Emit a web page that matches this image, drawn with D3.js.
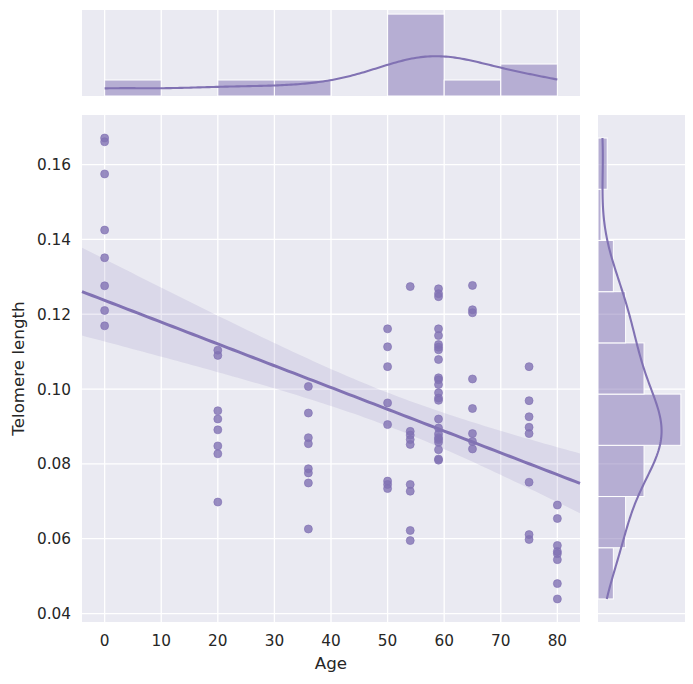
<!DOCTYPE html>
<html>
<head>
<meta charset="utf-8">
<script src="https://cdn.jsdelivr.net/npm/d3@7"></script>
<style>
  body { margin: 0; background: #fff; }
  text { font-family: "DejaVu Sans", sans-serif; fill: #262626; }
</style>
</head>
<body>
<svg id="chart" width="693" height="684"></svg>
<script>
// ages present in the sample and the telomere lengths read for each of them
const ageGroups = [0, 20, 36, 50, 54, 59, 65, 75, 80];
const telomere0 = [0.1671, 0.1661, 0.1575, 0.1425, 0.1351, 0.1276, 0.1210, 0.1169];
const telomere20 = [0.1104, 0.1090, 0.0942, 0.0920, 0.0891, 0.0848, 0.0827, 0.0698];
const telomere36 = [0.1007, 0.0936, 0.0870, 0.0854, 0.0787, 0.0776, 0.0749, 0.0626];
const telomere50 = [0.1161, 0.1113, 0.1060, 0.0963, 0.0905, 0.0754, 0.0745, 0.0734];
const telomere54 = [0.1274, 0.0887, 0.0877, 0.0865, 0.0852, 0.0745, 0.0727, 0.0622, 0.0595];
const telomere59 = [0.1268, 0.1255, 0.1247, 0.1161, 0.1143, 0.1119, 0.1112, 0.1105,
  0.1079, 0.1030, 0.1025, 0.1012, 0.0990, 0.0976, 0.0970, 0.0920, 0.0896, 0.0880,
  0.0870, 0.0865, 0.0858, 0.0838, 0.0813, 0.0810];
const telomere65 = [0.1277, 0.1212, 0.1204, 0.1027, 0.0948, 0.0881, 0.0860, 0.0840];
const telomere75 = [0.1060, 0.0969, 0.0926, 0.0898, 0.0881, 0.0751, 0.0611, 0.0598];
const telomere80 = [0.0690, 0.0654, 0.0582, 0.0566, 0.0560, 0.0544, 0.0480, 0.0439];
const telomereByAge = [telomere0, telomere20, telomere36, telomere50, telomere54,
  telomere59, telomere65, telomere75, telomere80];

const xTicks = [0, 10, 20, 30, 40, 50, 60, 70, 80];
const yTicks = [0.04, 0.06, 0.08, 0.10, 0.12, 0.14, 0.16];
const xBinEdges = [0, 10, 20, 30, 40, 50, 60, 70, 80];
const Y_BINS = 9;

const COLOR = '#8172B3';

const data = [];
ageGroups.forEach((a, i) => telomereByAge[i].forEach(t => data.push({age: a, tl: t})));
const n = data.length;
const xs = data.map(d => d.age);
const ys = data.map(d => d.tl);

// layout (pixels)
const joint = {left: 82, right: 580, top: 115, bottom: 622};
const margX = {top: 10, bottom: 96};
const margY = {left: 598, right: 685};

const svg = d3.select('#chart');

const xExt = d3.extent(xs), yExt = d3.extent(ys);
const xPad = (xExt[1] - xExt[0]) * 0.05, yPad = (yExt[1] - yExt[0]) * 0.05;
const x = d3.scaleLinear().domain([xExt[0] - xPad, xExt[1] + xPad]).range([joint.left, joint.right]);
const y = d3.scaleLinear().domain([yExt[0] - yPad, yExt[1] + yPad]).range([joint.bottom, joint.top]);

function histogram(values, edges) {
  const counts = edges.slice(0, -1).map(() => 0);
  values.forEach(v => {
    let i = d3.bisectRight(edges, v) - 1;
    if (i === counts.length) i--;
    if (i >= 0 && i < counts.length) counts[i]++;
  });
  return counts.map((c, i) => ({x0: edges[i], x1: edges[i + 1], count: c}));
}

function kde(values, binWidth) {
  const sd = d3.deviation(values);
  const bw = sd * Math.pow(values.length, -1 / 5);
  const [lo, hi] = d3.extent(values);
  const grid = d3.range(200).map(i => lo + (hi - lo) * i / 199);
  return grid.map(g => {
    let s = 0;
    values.forEach(v => { const z = (g - v) / bw; s += Math.exp(-0.5 * z * z); });
    const dens = s / (values.length * bw * Math.sqrt(2 * Math.PI));
    return [g, dens * values.length * binWidth];
  });
}

// backgrounds
svg.append('rect').attr('x', joint.left).attr('y', joint.top)
  .attr('width', joint.right - joint.left).attr('height', joint.bottom - joint.top).attr('fill', '#EAEAF2');
svg.append('rect').attr('x', joint.left).attr('y', margX.top)
  .attr('width', joint.right - joint.left).attr('height', margX.bottom - margX.top).attr('fill', '#EAEAF2');
svg.append('rect').attr('x', margY.left).attr('y', joint.top)
  .attr('width', margY.right - margY.left).attr('height', joint.bottom - joint.top).attr('fill', '#EAEAF2');

// grid lines
const grid = svg.append('g').attr('stroke', '#fff').attr('stroke-width', 1.3);
xTicks.forEach(t => {
  grid.append('line').attr('x1', x(t)).attr('x2', x(t)).attr('y1', joint.top).attr('y2', joint.bottom);
  grid.append('line').attr('x1', x(t)).attr('x2', x(t)).attr('y1', margX.top).attr('y2', margX.bottom);
});
yTicks.forEach(t => {
  grid.append('line').attr('y1', y(t)).attr('y2', y(t)).attr('x1', joint.left).attr('x2', joint.right);
  grid.append('line').attr('y1', y(t)).attr('y2', y(t)).attr('x1', margY.left).attr('x2', margY.right);
});

// regression with 95% confidence band
const mx = d3.mean(xs), my = d3.mean(ys);
const sxx = d3.sum(xs, v => (v - mx) ** 2);
const slope = d3.sum(data, d => (d.age - mx) * (d.tl - my)) / sxx;
const intercept = my - slope * mx;
const resid = Math.sqrt(d3.sum(data, d => (d.tl - (intercept + slope * d.age)) ** 2) / (n - 2));
const tCrit = 1.988;
const lineX = d3.range(100).map(i => x.domain()[0] + (x.domain()[1] - x.domain()[0]) * i / 99);
const band = lineX.map(v => {
  const fit = intercept + slope * v;
  const se = resid * Math.sqrt(1 / n + (v - mx) ** 2 / sxx);
  return {x: v, fit: fit, lo: fit - tCrit * se, hi: fit + tCrit * se};
});

svg.append('path').datum(band)
  .attr('d', d3.area().x(d => x(d.x)).y0(d => y(d.lo)).y1(d => y(d.hi)))
  .attr('fill', COLOR).attr('fill-opacity', 0.15);

svg.append('g').selectAll('circle').data(data).join('circle')
  .attr('cx', d => x(d.age)).attr('cy', d => y(d.tl)).attr('r', 4)
  .attr('fill', COLOR).attr('fill-opacity', 0.8)
  .attr('stroke', COLOR).attr('stroke-opacity', 0.8).attr('stroke-width', 0.8);

svg.append('path').datum(band)
  .attr('d', d3.line().x(d => x(d.x)).y(d => y(d.fit)))
  .attr('fill', 'none').attr('stroke', COLOR).attr('stroke-width', 3);

// marginal histogram for age (top)
const xBins = histogram(xs, xBinEdges);
const xKde = kde(xs, xBinEdges[1] - xBinEdges[0]);
const xCountMax = Math.max(d3.max(xBins, b => b.count), d3.max(xKde, d => d[1]));
const hx = d3.scaleLinear().domain([0, xCountMax * 1.05]).range([margX.bottom, margX.top]);
svg.append('g').selectAll('rect').data(xBins.filter(b => b.count > 0)).join('rect')
  .attr('x', b => x(b.x0)).attr('width', b => x(b.x1) - x(b.x0))
  .attr('y', b => hx(b.count)).attr('height', b => hx(0) - hx(b.count))
  .attr('fill', COLOR).attr('fill-opacity', 0.5)
  .attr('stroke', '#fff').attr('stroke-width', 1);
svg.append('path').datum(xKde)
  .attr('d', d3.line().x(d => x(d[0])).y(d => hx(d[1])))
  .attr('fill', 'none').attr('stroke', COLOR).attr('stroke-width', 2.1);

// marginal histogram for telomere length (right)
const yStep = (yExt[1] - yExt[0]) / Y_BINS;
const yBinEdges = d3.range(Y_BINS + 1).map(i => yExt[0] + yStep * i);
const yBins = histogram(ys, yBinEdges);
const yKde = kde(ys, yStep);
const yCountMax = Math.max(d3.max(yBins, b => b.count), d3.max(yKde, d => d[1]));
const hy = d3.scaleLinear().domain([0, yCountMax * 1.05]).range([margY.left, margY.right]);
svg.append('g').selectAll('rect').data(yBins.filter(b => b.count > 0)).join('rect')
  .attr('y', b => y(b.x1)).attr('height', b => y(b.x0) - y(b.x1))
  .attr('x', hy(0)).attr('width', b => hy(b.count) - hy(0))
  .attr('fill', COLOR).attr('fill-opacity', 0.5)
  .attr('stroke', '#fff').attr('stroke-width', 1);
svg.append('path').datum(yKde)
  .attr('d', d3.line().x(d => hy(d[1])).y(d => y(d[0])))
  .attr('fill', 'none').attr('stroke', COLOR).attr('stroke-width', 2.1);

// tick labels and axis titles
svg.append('g').selectAll('text').data(xTicks).join('text')
  .attr('x', d => x(d)).attr('y', 646).attr('text-anchor', 'middle')
  .attr('font-size', 15.3).text(d => d);
svg.append('g').selectAll('text').data(yTicks).join('text')
  .attr('x', 71).attr('y', d => y(d)).attr('dy', '0.36em').attr('text-anchor', 'end')
  .attr('font-size', 15.3).text(d => d3.format('.2f')(d));

svg.append('text').attr('x', (joint.left + joint.right) / 2).attr('y', 669)
  .attr('text-anchor', 'middle').attr('font-size', 16.7).text('Age');
svg.append('text').attr('transform', `translate(24,${(joint.top + joint.bottom) / 2}) rotate(-90)`)
  .attr('text-anchor', 'middle').attr('font-size', 16.7).text('Telomere length');
</script>
</body>
</html>
